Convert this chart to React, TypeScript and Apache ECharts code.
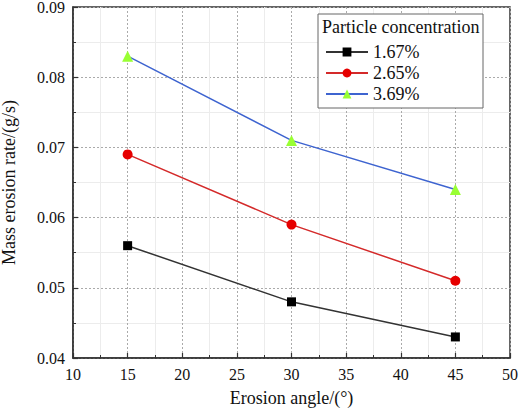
import { useEffect, useRef } from 'react';
import * as echarts from 'echarts';

const angles = [15, 30, 45];
const seriesNames = ['1.67%', '2.65%', '3.69%'];
const rate167 = [0.056, 0.048, 0.043];
const rate265 = [0.069, 0.059, 0.051];
const rate369 = [0.083, 0.071, 0.064];

const FONT = 'Liberation Serif';

const serif = (size: number) => ({ fontFamily: FONT, fontSize: size, color: '#111' });

export default function App() {
  const chartRef = useRef<HTMLDivElement>(null);

  useEffect(() => {
    if (!chartRef.current) return;
    const chart = echarts.init(chartRef.current, undefined, { renderer: 'svg' });

    const pairs = (vals: number[]) => angles.map((a, i) => [a, vals[i]]);

    chart.setOption({
      animation: false,
      backgroundColor: '#fff',
      textStyle: { fontFamily: FONT },
      grid: {
        left: 73,
        right: 10,
        top: 7,
        bottom: 51,
        outerBoundsMode: 'none',
        show: true,
        borderColor: '#333',
        borderWidth: 1.5,
        backgroundColor: 'transparent',
      },
      legend: {
        data: seriesNames,
        orient: 'vertical',
        left: 320,
        top: 38,
        itemWidth: 42,
        itemHeight: 11,
        itemGap: 3,
        z: 10,
        textStyle: serif(18),
      },
      graphic: [
        {
          type: 'rect',
          z: 9,
          shape: { x: 318, y: 14, width: 165, height: 94 },
          style: { fill: '#fff', stroke: '#666', lineWidth: 1 },
        },
        {
          type: 'text',
          z: 10,
          x: 322,
          y: 18,
          style: { text: 'Particle concentration', font: `18px ${FONT}`, fill: '#111' },
        },
      ],
      xAxis: {
        type: 'value',
        min: 10,
        max: 50,
        interval: 5,
        name: 'Erosion angle/(°)',
        nameLocation: 'center',
        nameGap: 31,
        nameTextStyle: serif(18),
        axisLine: { onZero: false, lineStyle: { color: '#333', width: 1.5 } },
        axisTick: { inside: true, length: 5, lineStyle: { color: '#333', width: 1.2 } },
        minorTick: { show: true, splitNumber: 2, length: 3, lineStyle: { color: '#333' } },
        axisLabel: { ...serif(16), margin: 8 },
        splitLine: { show: true, lineStyle: { color: '#aaa', type: [2, 2], width: 1 } },
        minorSplitLine: { show: true, lineStyle: { color: '#ececec', width: 1 } },
      },
      yAxis: {
        type: 'value',
        min: 0.04,
        max: 0.09,
        interval: 0.01,
        name: 'Mass erosion rate/(g/s)',
        nameLocation: 'center',
        nameGap: 55,
        nameTextStyle: serif(18),
        axisLine: { onZero: false, lineStyle: { color: '#333', width: 1.5 } },
        axisTick: { inside: true, length: 5, lineStyle: { color: '#333', width: 1.2 } },
        minorTick: { show: true, splitNumber: 2, length: 3, lineStyle: { color: '#333' } },
        axisLabel: {
          ...serif(16),
          margin: 8,
          formatter: (v: number) => v.toFixed(2),
        },
        splitLine: { show: true, lineStyle: { color: '#aaa', type: [2, 2], width: 1 } },
        minorSplitLine: { show: true, lineStyle: { color: '#ececec', width: 1 } },
      },
      series: [
        {
          name: seriesNames[0],
          type: 'line',
          data: pairs(rate167),
          symbol: 'rect',
          symbolSize: 9,
          lineStyle: { color: '#333', width: 1.5 },
          itemStyle: { color: '#000' },
        },
        {
          name: seriesNames[1],
          type: 'line',
          data: pairs(rate265),
          symbol: 'circle',
          symbolSize: 10,
          lineStyle: { color: '#d42a2a', width: 1.5 },
          itemStyle: { color: '#e60000' },
        },
        {
          name: seriesNames[2],
          type: 'line',
          data: pairs(rate369),
          symbol: 'triangle',
          symbolSize: 11,
          lineStyle: { color: '#3e64d0', width: 1.5 },
          itemStyle: { color: '#99ff33' },
        },
      ],
    });

    return () => {
      chart.dispose();
    };
  }, []);

  return (
    <div
      ref={chartRef}
      style={{ position: 'fixed', left: 0, top: 0, width: 520, height: 409 }}
    />
  );
}
